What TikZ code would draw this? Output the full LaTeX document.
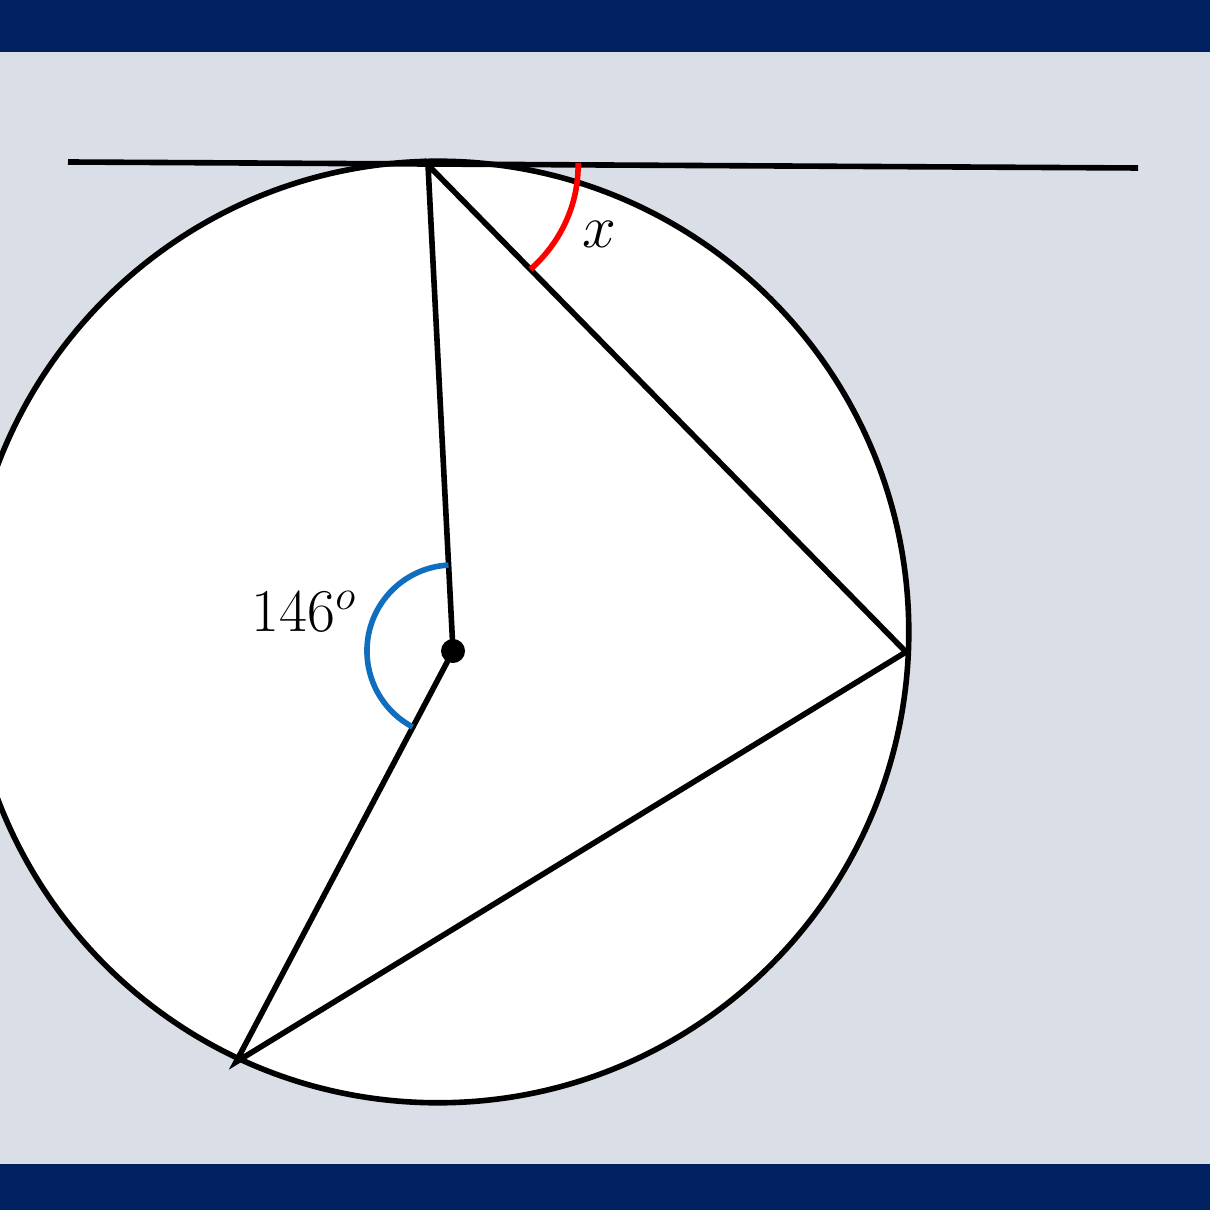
\documentclass[tikz,border=0pt]{standalone}
\usetikzlibrary{calc}
\definecolor{navy}{RGB}{0,32,96}
\definecolor{bgc}{RGB}{217,222,231}
\definecolor{arcblue}{RGB}{16,110,190}
\tikzset{
  geo/.style={draw=black, line width=0.056cm},
  anglemark/.style={line width=0.056cm},
  lbl/.style={font=\fontsize{18}{21}\selectfont, inner sep=0pt}
}
\begin{document}
\begin{tikzpicture}[x=0.01cm,y=-0.01cm]
\useasboundingbox (0,0) rectangle (1210,1210);
\clip (0,0) rectangle (1210,1210);
\fill[bgc] (0,0) rectangle (1210,1210);
\fill[navy] (0,0) rectangle (1210,52);
\fill[navy] (0,1164) rectangle (1210,1210);
% circle
\node[geo, circle, fill=white, minimum size=9.41cm, inner sep=0pt] (circ) at (438,632) {};
% points
\coordinate (A) at (428,165);
\coordinate (B) at (906,652);
\coordinate (C) at (236,1062);
\coordinate (T1) at (68,162);
\coordinate (T2) at (1138,168);
\node[circle, fill=black, minimum size=0.24cm, inner sep=0pt] (O) at (453,651) {};
% tangent
\draw[geo] (T1) -- (T2);
% chords and radii
\draw[geo, line join=miter, miter limit=10] (O.center) -- (C) -- (B) -- (A) -- (O.center);
% red angle x
\draw[anglemark, red] ($(A)+(1.5cm,0.02cm)$) arc[start angle=1, end angle=-47, x radius=1.5cm, y radius=1.42cm];
\node[lbl, anchor=base] (xl) at (599,248) {$x$};
% blue angle 146
\draw[anglemark, arcblue] ($(O)+(93:0.86cm)$) arc[start angle=93, end angle=242, radius=0.86cm];
\node[lbl, anchor=base west] (ang) at (251,632) {$146^{o}$};
\end{tikzpicture}
\end{document}
